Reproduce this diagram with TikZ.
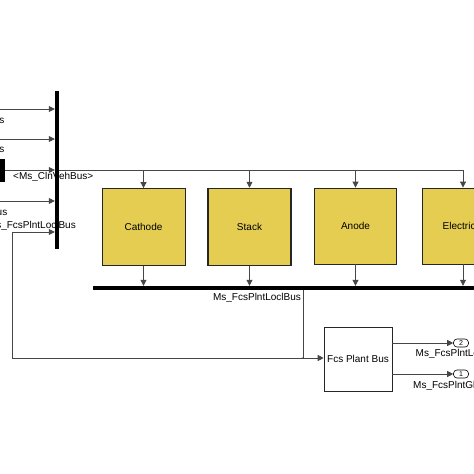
\documentclass[tikz,border=0pt]{standalone}
\usepackage{fontspec}
\setmainfont{Liberation Sans}
\usetikzlibrary{arrows.meta}
\definecolor{blkfill}{RGB}{229,205,82}
\definecolor{wirec}{RGB}{70,70,70}
\begin{document}
\begin{tikzpicture}[x=1pt,y=-1pt,
  font=\fontsize{10}{12}\selectfont,
  wire/.style={draw=wirec, line width=0.8pt},
  arr/.style={wire, -{Triangle[length=6pt,width=6pt]}},
  block/.style={draw=black!85, fill=blkfill, line width=0.8pt,
    minimum width=83pt, minimum height=77pt, inner sep=0pt},
  busbar/.style={fill=black, inner sep=0pt},
  lbl/.style={inner sep=0pt},
  port/.style={draw=black, rounded corners=3.5pt, line width=0.6pt,
    minimum width=15pt, minimum height=8pt, inner sep=0pt,
    font=\fontsize{7}{7}\selectfont}]
\useasboundingbox (0,0) rectangle (474,474);
\clip (0,0) rectangle (474,474);

% left bus bar and inputs
\node[busbar, minimum width=4pt, minimum height=158pt] (lbar) at (57,170) {};
\node[busbar, minimum width=8pt, minimum height=23pt] (lblk) at (1,170.5) {};
\coordinate (in1) at (0,109);
\coordinate (in2) at (0,139);
\coordinate (in3) at (lblk.east |- 0,170);
\coordinate (in4) at (0,201);
\draw[arr] (in1) -- (in1 -| lbar.west);
\draw[arr] (in2) -- (in2 -| lbar.west);
\draw[arr] (in3) -- (in3 -| lbar.west);
\draw[arr] (in4) -- (in4 -| lbar.west);
\node[lbl, anchor=east] (t1) at (4.5,120) {Bus};
\node[lbl, anchor=east] (t2) at (4.5,149) {Bus};
\node[lbl, anchor=east] (t4) at (7.5,212) {Bus};
\node[lbl, anchor=east] (t5) at (76,226) {Ms\_FcsPlntLoclBus};
\node[lbl, anchor=west] (t3) at (13,177) {<Ms\_ClnVehBus>};

% subsystem blocks
\node[block] (cath) at (143.5,227) {Cathode};
\node[block, line width=1.5pt] (stack) at (249.5,227) {Stack};
\node[block, minimum width=82pt, minimum height=76pt] (anode) at (355.5,226) {Anode};
\node[block, minimum width=82pt, minimum height=76pt] (elec) at (463,226) {Electrical};

% top distribution line
\draw[wire] (in3 -| lbar.east) -- (in3 -| elec.north);
\foreach \b in {cath,stack,anode,elec}
  \draw[arr] (in3 -| \b.north) -- (\b.north);

% bottom bus bar
\node[busbar, minimum width=390pt, minimum height=4pt] (bbar) at (288,288) {};
\foreach \b in {cath,stack,anode,elec}
  \draw[arr] (\b.south) -- (\b.south |- bbar.north);
\node[lbl] (blbl) at (257,298) {Ms\_FcsPlntLoclBus};

% plant bus block
\node[draw=black!85, fill=white, line width=0.6pt, minimum width=68pt,
  minimum height=64pt, inner sep=0pt] (fpb) at (358,359) {Fcs Plant Bus};

\coordinate (j) at (303,358);
\coordinate (c1) at (12,358);
\coordinate (c2) at (12,232);
\draw[wire] (bbar.south -| j) -- (j);
\draw[arr] (j) -- (j -| fpb.west);
\draw[arr] (j) -- (c1) -- (c2) -- (c2 -| lbar.west);
\fill[wirec] (j) circle (1pt);

% output ports
\node[port] (p2) at (461,343) {2};
\node[port] (p1) at (461,374) {1};
\draw[arr] (fpb.east |- p2) -- (p2.west);
\draw[arr] (fpb.east |- p1) -- (p1.west);
\node[lbl, anchor=west] (o2) at (415.5,354) {Ms\_FcsPlntLoclBus};
\node[lbl, anchor=west] (o1) at (413,386) {Ms\_FcsPlntGlbBus};
\end{tikzpicture}
\end{document}
